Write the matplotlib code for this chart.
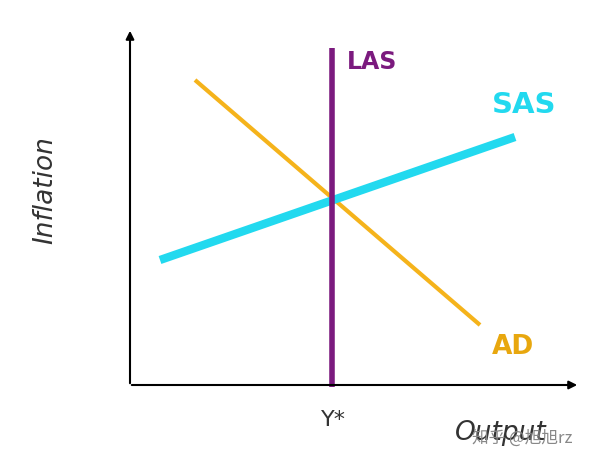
import matplotlib.pyplot as plt

plt.rcParams['font.family'] = ['DejaVu Sans', 'Noto Sans CJK SC']

# curve endpoints in picture coordinates (x right, y down)
las_x = [332, 332]
las_y = [48, 387]
ad_x = [195, 480]
ad_y = [80, 325]
sas_x = [160, 515]
sas_y = [260, 137]

fig = plt.figure(figsize=(5.95, 4.67), dpi=100)
ax = fig.add_axes([0, 0, 1, 1])
ax.set_xlim(0, 595)
ax.set_ylim(467, 0)
ax.axis('off')

# axes with arrows
ax.annotate('', xy=(130, 28), xytext=(130, 386),
            arrowprops=dict(arrowstyle='-|>', color='black', lw=1.5, mutation_scale=12))
ax.annotate('', xy=(580, 385), xytext=(129, 385),
            arrowprops=dict(arrowstyle='-|>', color='black', lw=1.5, mutation_scale=12))

ax.plot(ad_x, ad_y, color='#F5B31B', lw=3, solid_capstyle='butt')
ax.plot(sas_x, sas_y, color='#22D9EF', lw=6, solid_capstyle='butt')
ax.plot(las_x, las_y, color='#7B1A7E', lw=4, solid_capstyle='butt')

ax.text(347, 62, 'LAS', color='#7B1A7E', fontsize=17, fontweight='bold', va='center')
ax.text(492, 105, 'SAS', color='#22D9EF', fontsize=21, fontweight='bold', va='center')
ax.text(492, 347, 'AD', color='#E8A70E', fontsize=19, fontweight='bold', va='center')
ax.text(333, 420, 'Y*', fontsize=16, ha='center', va='center', color='#333333')
ax.text(45, 190, 'Inflation', fontsize=19, style='italic', rotation=90,
        ha='center', va='center', color='#333333')
ax.text(455, 433, 'Output', fontsize=19, style='italic', va='center', color='#333333')
ax.text(472, 438, '知乎 @旭旭rz', fontsize=12, va='center', color='#888888',
        family=['Noto Sans CJK SC', 'DejaVu Sans'])

fig.savefig('out.png', dpi=100)
